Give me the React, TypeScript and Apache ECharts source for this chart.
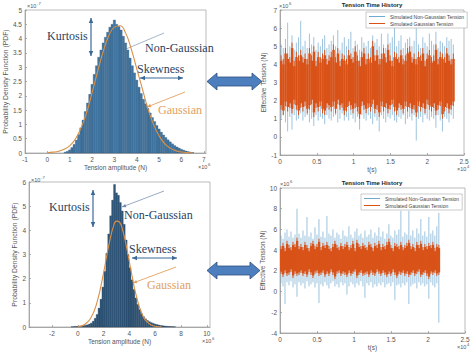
import React, { useEffect, useRef } from "react";
import * as echarts from "echarts";

// ---------- DATA ----------
// Top-left histogram (PDF x1e-7), bins of width 0.1 (x1e6 N) starting at centre 0.8
const TL_BIN_START = 0.8;
const TL_BIN_W = 0.1;
const topHist = [
  0.03, 0.06, 0.11, 0.19, 0.3, 0.45, 0.64, 0.88, 1.15, 1.45,
  1.75, 2.05, 2.4, 2.75, 3.05, 3.35, 3.6, 3.85, 4.05, 4.22,
  4.4, 4.5, 4.65, 4.5, 4.42, 4.3, 4.08, 3.85, 3.6, 3.32,
  3.05, 2.8, 2.55, 2.3, 2.08, 1.88, 1.72, 1.56, 1.4, 1.24,
  1.1, 0.96, 0.84, 0.73, 0.63, 0.54, 0.46, 0.39, 0.32, 0.26,
  0.21, 0.17, 0.13, 0.1, 0.07, 0.05, 0.03, 0.02,
];
const topGaussX = [0, 0.25, 0.5, 0.75, 1, 1.25, 1.5, 1.75, 2, 2.25, 2.5, 2.75, 3, 3.25, 3.5, 3.75, 4, 4.25, 4.5, 4.75, 5, 5.25, 5.5, 5.75, 6, 6.25, 6.5];
const topGaussY = [0.01, 0.03, 0.06, 0.13, 0.25, 0.48, 0.86, 1.4, 2.1, 2.85, 3.55, 4.1, 4.4, 4.45, 4.2, 3.65, 2.95, 2.25, 1.55, 1.0, 0.6, 0.33, 0.17, 0.08, 0.035, 0.012, 0.004];

// Bottom-left histogram, bins of width 0.15 starting at centre -0.45
const BL_BIN_START = -0.45;
const BL_BIN_W = 0.15;
const botHist = [
  0.01, 0.015, 0.02, 0.03, 0.035, 0.045, 0.055, 0.07, 0.09, 0.12,
  0.16, 0.24, 0.36, 0.52, 0.78, 1.15, 1.65, 2.3, 3.05, 3.85,
  4.6, 5.25, 5.9, 5.55, 5.45, 5.15, 4.8, 4.25, 3.6, 3.0,
  2.45, 1.95, 1.55, 1.2, 0.93, 0.72, 0.55, 0.43, 0.34, 0.27,
  0.22, 0.18, 0.15, 0.12, 0.1, 0.08, 0.065, 0.05, 0.04, 0.03,
  0.025, 0.02, 0.015, 0.01,
];
const botGaussX = [0, 0.5, 1, 1.5, 2, 2.25, 2.5, 2.75, 3, 3.25, 3.5, 3.75, 4, 4.25, 4.5, 5, 5.5, 6, 6.5];
const botGaussY = [0.018, 0.094, 0.36, 1.04, 2.24, 2.96, 3.62, 4.13, 4.38, 4.33, 3.97, 3.39, 2.7, 2.0, 1.37, 0.52, 0.15, 0.032, 0.005];

// Time histories (x1e6 N): per time bin, local max / min
const TOP_T_END = 2.37; // x1e4 s
const gaussHighTop = [
  4.5, 4.3, 4.9, 4.6, 4.4, 5.2, 4.2, 4.7, 4.5, 4.8,
  4.4, 4.6, 4.3, 4.9, 4.5, 5.0, 4.2, 4.7, 4.4, 4.6,
  4.8, 4.3, 4.5, 4.7, 5.1, 4.4, 4.9, 4.2, 4.6, 4.5,
  4.3, 4.8, 4.6, 4.4, 5.0, 4.5, 4.2, 4.7, 4.9, 4.3,
  4.6, 4.4, 5.3, 4.5, 4.8, 4.3, 4.6, 4.9, 4.4, 5.1,
  4.5, 4.2, 4.7, 4.6, 4.4, 4.8, 4.3, 4.5, 4.9, 5.0,
  4.4, 4.6, 4.3, 4.7, 4.5, 4.9, 4.2, 4.6, 4.8, 4.4,
  4.5, 5.1, 4.3, 4.7, 4.6, 4.4, 4.9, 4.5, 4.3, 4.6,
];
const gaussLowTop = [
  1.5, 1.2, 1.7, 1.4, 1.6, 1.3, 1.8, 1.5, 1.2, 1.6,
  1.4, 1.7, 1.3, 1.5, 1.8, 1.1, 1.6, 1.4, 1.7, 1.3,
  1.2, 1.6, 1.5, 1.4, 1.7, 1.3, 1.8, 1.5, 1.6, 1.2,
  1.4, 1.7, 1.5, 1.3, 1.6, 1.4, 1.0, 1.7, 1.5, 1.3,
  1.6, 1.4, 1.8, 1.3, 1.5, 1.1, 1.7, 1.4, 1.6, 1.3,
  1.5, 1.8, 1.4, 1.2, 1.6, 1.5, 1.3, 1.7, 1.4, 1.6,
  1.3, 1.5, 1.1, 1.7, 1.4, 1.6, 1.3, 1.8, 1.5, 1.4,
  1.6, 1.2, 1.5, 1.7, 1.0, 1.4, 1.6, 1.3, 1.5, 1.7,
];
const nongHighTop = [
  5.1, 4.9, 5.4, 6.3, 5.0, 5.6, 4.8, 5.2, 5.5, 6.4,
  5.0, 5.3, 4.9, 5.7, 5.1, 5.5, 4.8, 5.2, 5.0, 5.4,
  5.6, 4.9, 5.1, 5.3, 5.6, 5.0, 5.9, 4.8, 5.2, 5.5,
  5.0, 5.4, 5.8, 4.9, 5.3, 5.1, 4.8, 5.5, 5.2, 5.0,
  5.3, 4.9, 5.6, 5.2, 5.4, 5.0, 5.7, 5.1, 4.9, 5.7,
  5.2, 5.5, 6.1, 5.0, 5.3, 5.6, 4.9, 5.2, 5.4, 5.5,
  5.0, 5.3, 6.0, 5.1, 4.9, 5.5, 5.2, 5.0, 5.7, 5.3,
  5.1, 5.8, 4.9, 5.3, 5.2, 5.0, 5.5, 5.3, 5.4, 5.1,
];
const nongLowTop = [
  1.0, 1.2, 0.8, 0.3, 1.1, 0.4, 1.2, 0.9, 1.0, 1.3,
  0.9, 1.1, 1.2, 0.8, 1.0, 0.6, 1.2, 0.9, 1.1, 1.0,
  0.7, 1.2, 1.0, 0.9, 1.1, 1.2, 0.8, 1.0, 1.3, 0.9,
  1.1, 0.9, 1.2, 1.0, 0.8, 1.1, 0.4, 1.2, 1.0, 0.9,
  1.2, 1.0, 0.7, 1.1, 0.9, 0.3, 1.2, 1.0, 0.8, 1.1,
  1.0, 1.2, 0.9, 0.8, 1.1, 1.0, 1.2, 0.7, 1.0, 1.1,
  0.9, 1.2, -0.2, 1.0, 1.1, 0.8, 1.2, 1.0, 0.9, 1.1,
  1.0, 0.5, 1.2, 0.9, 0.3, 1.1, 1.0, 0.8, 1.2, 1.0,
];

const BOT_T_END = 2.16; // x1e4 s
const gaussHighBot = [
  4.4, 4.7, 4.2, 4.9, 4.5, 4.3, 4.8, 4.6, 5.2, 4.4,
  4.6, 4.3, 4.8, 4.5, 4.2, 4.7, 4.9, 4.4, 4.6, 5.1,
  4.3, 4.7, 4.5, 4.8, 4.4, 4.2, 4.6, 4.9, 4.5, 4.3,
  4.7, 4.4, 4.6, 4.8, 4.3, 4.5, 4.9, 4.2, 5.0, 4.6,
  4.4, 4.7, 4.5, 4.3, 4.8, 4.6, 4.2, 4.7, 4.5, 4.9,
  4.3, 4.6, 4.4, 4.8, 5.1, 4.5, 4.2, 4.7, 4.6, 4.4,
  4.8, 4.3, 4.5, 4.7, 5.0, 4.4, 4.6, 4.2, 4.8, 4.5,
  4.9, 4.3, 4.6, 4.4, 4.7, 4.5, 4.8, 4.2, 4.6, 4.5,
];
const gaussLowBot = [
  1.7, 1.4, 1.8, 1.5, 1.6, 1.9, 1.3, 1.7, 1.5, 1.6,
  1.8, 1.5, 1.7, 1.4, 1.9, 1.6, 1.3, 1.7, 1.8, 1.5,
  1.6, 1.8, 1.4, 1.7, 1.5, 1.9, 1.6, 1.2, 1.7, 1.8,
  1.5, 1.7, 1.6, 1.4, 1.8, 1.5, 1.7, 1.9, 1.3, 1.6,
  1.8, 1.5, 1.6, 1.7, 1.4, 1.8, 1.6, 1.5, 1.9, 1.7,
  1.5, 1.8, 1.6, 1.4, 1.7, 1.5, 1.9, 1.6, 1.3, 1.7,
  1.6, 1.8, 1.5, 1.7, 1.4, 1.6, 1.8, 1.5, 1.7, 1.9,
  1.4, 1.6, 1.8, 1.5, 1.2, 1.7, 1.6, 1.8, 1.5, 1.6,
];
const nongHighBot = [
  5.4, 5.1, 5.7, 6.0, 5.3, 5.8, 5.2, 5.5, 8.0, 5.6,
  5.2, 5.9, 5.4, 7.2, 5.3, 5.7, 5.1, 6.2, 5.5, 7.0,
  5.3, 5.8, 5.2, 7.3, 5.6, 5.4, 6.0, 5.2, 5.7, 5.5,
  5.1, 5.9, 5.4, 5.3, 6.3, 5.5, 5.2, 5.8, 6.1, 5.4,
  5.6, 5.2, 5.9, 5.3, 5.5, 6.0, 5.2, 5.7, 5.4, 6.2,
  5.3, 5.8, 5.1, 5.6, 6.5, 5.4, 5.2, 5.9, 5.5, 6.0,
  7.8, 5.3, 5.7, 5.5, 7.8, 5.4, 5.9, 5.2, 6.1, 5.6,
  7.0, 5.4, 5.8, 5.3, 7.2, 5.6, 5.9, 5.4, 6.3, 7.6,
];
const nongLowBot = [
  0.8, 0.5, -1.2, 0.9, 0.6, 1.0, 0.4, 0.7, -0.5, 0.9,
  0.6, 0.8, 0.3, 1.0, 0.5, 0.7, 0.9, 0.4, 0.8, -1.1,
  0.7, 0.5, 0.9, 0.6, 0.3, 0.8, 1.0, 0.5, 0.7, 0.4,
  0.9, 0.6, 0.8, -0.3, 0.5, 0.9, 0.7, 0.4, 0.8, 0.6,
  1.0, 0.5, -0.6, 0.8, 0.6, 0.9, 0.4, 0.7, 0.5, 0.8,
  0.6, 0.9, 0.4, 0.7, 0.8, 0.5, 0.9, -0.8, 0.6, 0.7,
  0.4, 0.8, 0.6, 0.9, -1.2, 0.5, 0.7, 0.8, 0.3, 0.9,
  0.6, 0.8, 0.5, 0.7, -0.7, 0.9, 0.6, 0.4, 0.8, -3.0,
];

const TL_XTICKS = [-1, 0, 1, 2, 3, 4, 5, 6, 7];
const BL_XTICKS = [-2, 0, 2, 4, 6, 8, 10];
const NAME_NG = "Simulated Non-Gaussian Tension";
const NAME_G = "Simulated Gaussian Tension";

// ---------- helpers ----------
const histData = (start: number, w: number, values: number[]) => values.map((v, i) => [start + i * w, v]);
const bandData = (hi: number[], lo: number[], tEnd: number) => {
  const n = Math.min(hi.length, lo.length);
  const dt = tEnd / n;
  return hi.slice(0, n).map((h, i) => [i * dt, h, lo[i], (i + 1) * dt]);
};

const histSeries = (idx: number, data: number[][], w: number, fill: string, stroke: string) => ({
  type: "custom",
  xAxisIndex: idx,
  yAxisIndex: idx,
  silent: true,
  encode: { x: 0, y: 1 },
  data,
  renderItem: (params: any, api: any) => {
    const x = api.value(0);
    const y = api.value(1);
    const a = api.coord([x - w / 2, y]);
    const b = api.coord([x + w / 2, 0]);
    return {
      type: "rect",
      shape: { x: a[0], y: a[1], width: b[0] - a[0], height: b[1] - a[1] },
      style: { fill, stroke, lineWidth: 0.3 },
    };
  },
});

// filled band per time bin (Gaussian history) with a thin spike through the middle
const bandSeries = (idx: number, name: string, data: number[][], color: string) => ({
  type: "custom",
  name,
  xAxisIndex: idx,
  yAxisIndex: idx,
  silent: true,
  encode: { x: [0, 3], y: [1, 2] },
  itemStyle: { color },
  data,
  renderItem: (params: any, api: any) => {
    const t0 = api.value(0), hi = api.value(1), lo = api.value(2), t1 = api.value(3);
    const a = api.coord([t0, hi - 0.3]);
    const b = api.coord([t1, lo + 0.25]);
    const c1 = api.coord([(t0 + t1) / 2, hi]);
    const c2 = api.coord([(t0 + t1) / 2, lo]);
    return {
      type: "group",
      children: [
        { type: "rect", shape: { x: a[0], y: a[1], width: b[0] - a[0] + 0.3, height: b[1] - a[1] }, style: { fill: color } },
        { type: "line", shape: { x1: c1[0], y1: c1[1], x2: c2[0], y2: c2[1] }, style: { stroke: color, lineWidth: 1 } },
      ],
    };
  },
});

// thin spikes per time bin (non-Gaussian history)
const spikeSeries = (idx: number, name: string, data: number[][], color: string) => ({
  type: "custom",
  name,
  xAxisIndex: idx,
  yAxisIndex: idx,
  silent: true,
  encode: { x: [0, 3], y: [1, 2] },
  itemStyle: { color },
  data,
  renderItem: (params: any, api: any) => {
    const t0 = api.value(0), hi = api.value(1), lo = api.value(2), t1 = api.value(3);
    const c1 = api.coord([(t0 + t1) / 2, hi]);
    const c2 = api.coord([(t0 + t1) / 2, lo]);
    return { type: "line", shape: { x1: c1[0], y1: c1[1], x2: c2[0], y2: c2[1] }, style: { stroke: color, lineWidth: 0.7 } };
  },
});

const head = (tx: number, ty: number, fx: number, fy: number, size: number, color: string) => {
  const dx = tx - fx, dy = ty - fy;
  const len = Math.hypot(dx, dy);
  const ux = dx / len, uy = dy / len;
  const bx = tx - ux * size, by = ty - uy * size;
  const px = -uy * size * 0.45, py = ux * size * 0.45;
  return { type: "polygon", silent: true, shape: { points: [[tx, ty], [bx + px, by + py], [bx - px, by - py]] }, style: { fill: color } };
};
const line = (x1: number, y1: number, x2: number, y2: number, color: string, w: number) => ({
  type: "line", silent: true, shape: { x1, y1, x2, y2 }, style: { stroke: color, lineWidth: w },
});
const dbl = (x1: number, y1: number, x2: number, y2: number, color: string) => [
  line(x1, y1, x2, y2, color, 1.2),
  head(x1, y1, x2, y2, 5, color),
  head(x2, y2, x1, y1, 5, color),
];
const serif = (text: string, x: number, y: number, fill: string) => ({
  type: "text", silent: true, x, y,
  style: { text, fill, fontSize: 12, fontFamily: "Liberation Serif", align: "left", verticalAlign: "middle" },
});
const small = (text: string, x: number, y: number, size: number) => ({
  type: "text", silent: true, x, y,
  style: { text, fill: "#555", fontSize: size, fontFamily: "Liberation Sans", align: "left", verticalAlign: "middle" },
});
const expo = (x: number, y: number, p: string) => [small("×10", x, y, 5.5), small(p, x + 10, y - 3, 4.2)];
const blockArrow = (l: number, r: number, cy: number) => ({
  type: "polygon", silent: true,
  shape: {
    points: [
      [l, cy], [l + 10, cy - 8.5], [l + 10, cy - 4.5], [r - 10, cy - 4.5], [r - 10, cy - 8.5],
      [r, cy], [r - 10, cy + 8.5], [r - 10, cy + 4.5], [l + 10, cy + 4.5], [l + 10, cy + 8.5],
    ],
  },
  style: { fill: "#4d7fbf", stroke: "#2e4f80", lineWidth: 0.8 },
});

const NAVY = "#2b3f5e";
const ORANGE_TXT = "#e0a060";
const ARROW = "#3b6a98";
const BLUE_TS = "#72a9cf";
const ORANGE_TS = "#d95319";

const axisBase = (idx: number) => ({
  gridIndex: idx,
  type: "value",
  nameLocation: "middle",
  axisLine: { show: true, onZero: false, lineStyle: { color: "#999", width: 0.8 } },
  axisTick: { show: true, inside: true, length: 2, lineStyle: { color: "#999", width: 0.8 } },
  axisLabel: { fontSize: 6.5, color: "#555", fontFamily: "Liberation Sans", margin: 3 },
  splitLine: { show: false },
  nameTextStyle: { fontSize: 6.5, color: "#555", fontFamily: "Liberation Sans" },
});

export default function App() {
  const ref = useRef<HTMLDivElement>(null);
  useEffect(() => {
    if (!ref.current) return;
    const chart = echarts.init(ref.current, undefined, { renderer: "svg" });
    const gridBox = { show: true, borderColor: "#aaa", borderWidth: 0.8, backgroundColor: "#fff" };
    const legendBase = {
      data: [NAME_NG, NAME_G],
      orient: "vertical",
      icon: "rect",
      itemWidth: 16,
      itemHeight: 1,
      itemGap: 2,
      padding: [2, 3, 2, 3],
      borderColor: "#aaa",
      borderWidth: 0.6,
      backgroundColor: "#fff",
      z: 10,
      selectedMode: false,
      textStyle: { fontSize: 5, color: "#444", fontFamily: "Liberation Sans" },
    };
    const option: any = {
      animation: false,
      backgroundColor: "#fff",
      grid: [
        { left: 25, top: 10, width: 181, height: 143, ...gridBox },
        { left: 280, top: 10, width: 184, height: 145, ...gridBox },
        { left: 29, top: 182, width: 181, height: 145, ...gridBox },
        { left: 280, top: 188, width: 185, height: 145, ...gridBox },
      ],
      xAxis: [
        { ...axisBase(0), min: -1, max: 7.1, name: "Tension amplitude (N)", nameGap: 10,
          axisLabel: { ...axisBase(0).axisLabel, customValues: TL_XTICKS },
          axisTick: { ...axisBase(0).axisTick, customValues: TL_XTICKS } },
        { ...axisBase(1), min: 0, max: 2.5, interval: 0.5, name: "t(s)", nameGap: 11 },
        { ...axisBase(2), min: -3.78, max: 10.25, name: "Tension amplitude (N)", nameGap: 10,
          axisLabel: { ...axisBase(2).axisLabel, customValues: BL_XTICKS },
          axisTick: { ...axisBase(2).axisTick, customValues: BL_XTICKS } },
        { ...axisBase(3), min: 0, max: 2.5, interval: 0.5, name: "t(s)", nameGap: 10 },
      ],
      yAxis: [
        { ...axisBase(0), min: 0, max: 5, interval: 0.5, name: "Probability Density Function (PDF)", nameGap: 15,
          nameTextStyle: { ...axisBase(0).nameTextStyle, fontSize: 6.8 } },
        { ...axisBase(1), min: -1, max: 7, interval: 1, name: "Effective Tension (N)", nameGap: 12 },
        { ...axisBase(2), min: 0, max: 6, interval: 1, name: "Probability Density Function (PDF)", nameGap: 10,
          nameTextStyle: { ...axisBase(2).nameTextStyle, fontSize: 6.8 } },
        { ...axisBase(3), min: -4, max: 10, interval: 2, name: "Effective Tension (N)", nameGap: 12 },
      ],
      legend: [
        { ...legendBase, left: 366, top: 12 },
        { ...legendBase, left: 361, top: 194 },
      ],
      series: [
        histSeries(0, histData(TL_BIN_START, TL_BIN_W, topHist), TL_BIN_W, "#4175a1", "#2d5678"),
        { type: "line", name: "gaussTop", xAxisIndex: 0, yAxisIndex: 0, smooth: true, showSymbol: false, silent: true,
          data: topGaussX.map((x, i) => [x, topGaussY[i]]), lineStyle: { color: "#d98f45", width: 1.1 }, itemStyle: { color: "#d98f45" } },
        spikeSeries(1, NAME_NG, bandData(nongHighTop, nongLowTop, TOP_T_END), BLUE_TS),
        bandSeries(1, NAME_G, bandData(gaussHighTop, gaussLowTop, TOP_T_END), ORANGE_TS),
        histSeries(2, histData(BL_BIN_START, BL_BIN_W, botHist), BL_BIN_W, "#2f5679", "#1d3a56"),
        { type: "line", name: "gaussBot", xAxisIndex: 2, yAxisIndex: 2, smooth: true, showSymbol: false, silent: true,
          data: botGaussX.map((x, i) => [x, botGaussY[i]]), lineStyle: { color: "#d98f45", width: 1.1 }, itemStyle: { color: "#d98f45" } },
        spikeSeries(3, NAME_NG, bandData(nongHighBot, nongLowBot, BOT_T_END), BLUE_TS),
        bandSeries(3, NAME_G, bandData(gaussHighBot, gaussLowBot, BOT_T_END), ORANGE_TS),
      ],
      graphic: {
        elements: [
          // titles
          { type: "text", silent: true, x: 372, y: 5, style: { text: "Tension Time History", fontSize: 6, fontWeight: "bold", fill: "#222", fontFamily: "Liberation Sans", align: "center", verticalAlign: "middle" } },
          { type: "text", silent: true, x: 372, y: 183, style: { text: "Tension Time History", fontSize: 6, fontWeight: "bold", fill: "#222", fontFamily: "Liberation Sans", align: "center", verticalAlign: "middle" } },
          // exponents
          ...expo(27, 6, "-7"),
          ...expo(198, 167, "6"),
          ...expo(279, 6, "6"),
          ...expo(457, 169, "4"),
          ...expo(31, 180, "-7"),
          ...expo(202, 341, "6"),
          ...expo(280, 184, "6"),
          ...expo(457, 347, "4"),
          // top-left annotations
          serif("Kurtosis", 47, 36, NAVY),
          ...dbl(91, 18, 91, 56, ARROW),
          serif("Non-Gaussian", 145, 48, NAVY),
          line(164, 33, 126, 49, "#8fa3bd", 0.8),
          serif("Skewness", 137, 69, NAVY),
          ...dbl(140, 78, 183, 78, ARROW),
          serif("Gaussian", 158, 110, ORANGE_TXT),
          line(185, 92, 147, 107, "#e3a060", 0.9),
          head(147, 107, 185, 92, 4, "#e3a060"),
          // bottom-left annotations
          serif("Kurtosis", 49, 207, NAVY),
          ...dbl(93, 190, 93, 227, ARROW),
          serif("Non-Gaussian", 124, 215, NAVY),
          line(164, 191, 122, 207, "#7f96b4", 0.8),
          head(122, 207, 164, 191, 4, "#6b88aa"),
          serif("Skewness", 129, 249, NAVY),
          ...dbl(132, 258, 177, 258, ARROW),
          serif("Gaussian", 147, 285, ORANGE_TXT),
          line(176, 267, 133, 283, "#e3a060", 0.9),
          head(133, 283, 176, 267, 4, "#e3a060"),
          // big arrows
          blockArrow(207, 262, 81.5),
          blockArrow(207, 260, 270.5),
        ],
      },
    };
    chart.setOption(option);
    return () => chart.dispose();
  }, []);
  return <div ref={ref} style={{ position: "absolute", left: 0, top: 0, width: 474, height: 354 }} />;
}
